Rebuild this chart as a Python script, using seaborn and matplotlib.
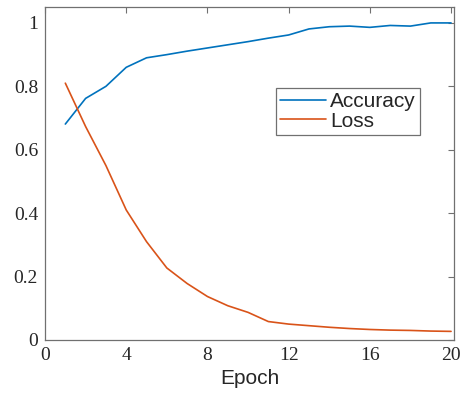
import matplotlib
matplotlib.use("Agg")
import matplotlib.pyplot as plt
import pandas as pd
import seaborn as sns

epochs = list(range(1, 21))
accuracy = [0.681, 0.762, 0.800, 0.860, 0.890, 0.900, 0.911, 0.921, 0.931, 0.941,
            0.952, 0.962, 0.981, 0.988, 0.990, 0.986, 0.992, 0.990, 1.000, 1.000]
loss = [0.810, 0.673, 0.550, 0.410, 0.310, 0.227, 0.178, 0.137, 0.108, 0.087,
        0.058, 0.050, 0.045, 0.040, 0.036, 0.033, 0.031, 0.030, 0.028, 0.027]
series_names = ["Accuracy", "Loss"]
series_colors = ["#0072BD", "#D95319"]
x_ticks = [0, 4, 8, 12, 16, 20]
y_ticks = [0, 0.2, 0.4, 0.6, 0.8, 1]
y_tick_labels = ["0", "0.2", "0.4", "0.6", "0.8", "1"]

sns.set_theme(style="white")

df = pd.DataFrame({
    "Epoch": epochs * 2,
    "value": accuracy + loss,
    "series": [series_names[0]] * len(epochs) + [series_names[1]] * len(epochs),
})

fig = plt.figure(figsize=(4.74, 3.93), dpi=100)
ax = fig.add_axes([0.095, 0.135, 0.863, 0.847])

sns.lineplot(data=df, x="Epoch", y="value", hue="series",
             palette=dict(zip(series_names, series_colors)),
             linewidth=1.2, ax=ax, legend=False)

ax.set_xlim(0, 20.15)
ax.set_ylim(0, 1.05)
ax.set_xticks(x_ticks)
ax.set_yticks(y_ticks)
ax.set_xticklabels([str(t) for t in x_ticks], family="Liberation Serif", fontsize=14)
ax.set_yticklabels(y_tick_labels, family="Liberation Serif", fontsize=14)
ax.tick_params(direction="in", length=4, width=0.8, color="#707070",
               top=True, right=True, pad=5)
for spine in ax.spines.values():
    spine.set_color("#707070")
    spine.set_linewidth(0.9)

ax.set_xlabel("Epoch", family="Liberation Sans", fontsize=15, labelpad=4)
ax.set_ylabel("")

handles = [plt.Line2D([], [], color=c, linewidth=1.2) for c in series_colors]
leg = ax.legend(handles, series_names, loc="upper left", bbox_to_anchor=(0.565, 0.757),
                borderaxespad=0, frameon=True, fancybox=False, framealpha=1,
                edgecolor="#707070", handlelength=2.2, handletextpad=0.2,
                labelspacing=0.02, borderpad=0.2,
                prop={"family": "Liberation Sans", "size": 15})
leg.get_frame().set_linewidth(0.9)

fig.savefig("out.png", dpi=100)
